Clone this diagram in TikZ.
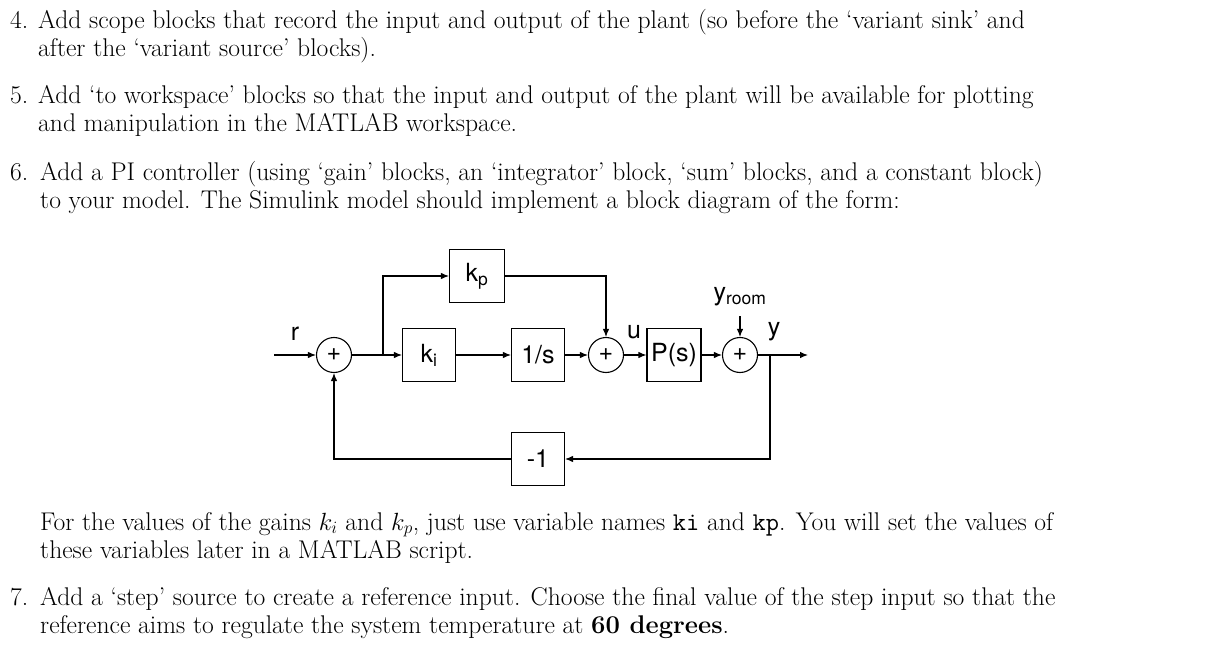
\documentclass[tikz,border=0pt]{standalone}
\usepackage{fontspec}
\newfontfamily\hv{TeX Gyre Heros}
\usetikzlibrary{arrows.meta}
\begin{document}
\begin{tikzpicture}[x=1pt,y=-1pt,
  txt/.style={anchor=base west,inner sep=0pt,font=\fontsize{25.6}{28}\selectfont},
  blk/.style={draw,line width=1.1pt,inner sep=0pt,font=\hv\fontsize{25}{28}\selectfont},
  sm/.style={draw,circle,line width=1.1pt,minimum size=35pt,inner sep=0pt,font=\hv\fontsize{25}{28}\selectfont},
  lbl/.style={font=\hv\fontsize{25}{28}\selectfont,inner sep=0pt},
  ar/.style={line width=1.1pt,-{Latex[length=8pt,width=6.5pt]}},
  ln/.style={line width=1.1pt}]
\useasboundingbox (0,0) rectangle (1224,666);
% text
\node[txt] (n4) at (10,29) {4.};
\node[txt] (t4a) at (38,29) {Add scope blocks that record the input and output of the plant (so before the `variant sink' and};
\node[txt] (t4b) at (38,57) {after the `variant source' blocks).};
\node[txt] (n5) at (10,104) {5.};
\node[txt] (t5a) at (38,104) {Add `to workspace' blocks so that the input and output of the plant will be available for plotting};
\node[txt] (t5b) at (38,132) {and manipulation in the MATLAB workspace.};
\node[txt] (n6) at (10,180) {6.};
\node[txt] (t6a) at (40,180) {Add a PI controller (using `gain' blocks, an `integrator' block, `sum' blocks, and a constant block)};
\node[txt] (t6b) at (40,208) {to your model. The Simulink model should implement a block diagram of the form:};
\node[txt] (tfa) at (40,530) {For the values of the gains $k_i$ and $k_p$, just use variable names \texttt{ki} and \texttt{kp}. You will set the values of};
\node[txt] (tfb) at (40,558) {these variables later in a MATLAB script.};
\node[txt] (n7) at (10,605) {7.};
\node[txt] (t7a) at (40,605) {Add a `step' source to create a reference input. Choose the final value of the step input so that the};
\node[txt] (t7b) at (40,633) {reference aims to regulate the system temperature at \textbf{60 degrees}.};
% diagram
\node[sm] (s1) at (334,355) {+};
\node[sm] (s2) at (606,355) {+};
\node[sm] (s3) at (740,355) {+};
\node[blk,minimum width=55pt,minimum height=53pt] (kp) at (477,276) {k\textsubscript{p}};
\node[blk,minimum width=53pt,minimum height=53pt] (ki) at (429,355) {k\textsubscript{i}};
\node[blk,minimum width=53pt,minimum height=53pt] (int) at (538,355) {1/s};
\node[blk,minimum width=54pt,minimum height=53pt] (P) at (674,355) {P(s)};
\node[blk,minimum width=53pt,minimum height=53pt] (neg) at (538,459) {-1};
\coordinate (in) at (274,355);
\coordinate (br1) at (383,355);
\coordinate (br2) at (770,355);
\coordinate (out) at (808,355);
\coordinate (yr) at (740,316);
\node[lbl] (lr) at (295,334) {r};
\node[lbl] (lu) at (634,332) {u};
\node[lbl] (ly) at (774,332) {y};
\node[lbl] (lyr) at (740,297) {y\textsubscript{room}};
\draw[ar] (in) -- (s1);
\draw[ar] (s1) -- (ki);
\draw[ar] (br1) |- (kp);
\draw[ar] (kp) -| (s2);
\draw[ar] (ki) -- (int);
\draw[ar] (int) -- (s2);
\draw[ar] (s2) -- (P);
\draw[ar] (P) -- (s3);
\draw[ar] (yr) -- (s3);
\draw[ar] (s3) -- (out);
\draw[ar] (br2) |- (neg);
\draw[ar] (neg) -| (s1);
\end{tikzpicture}
\end{document}
